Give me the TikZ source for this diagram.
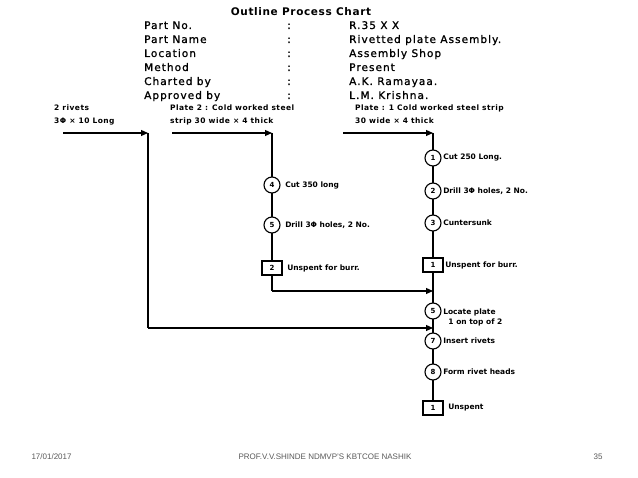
\documentclass[tikz,border=0pt]{standalone}
\usepackage{fontspec}
\setmainfont{Liberation Sans}
\newfontfamily\hdfont{DejaVu Sans}[LetterSpace=10,FakeBold=1.2]
\newfontfamily\ttlfont{DejaVu Sans}[LetterSpace=6]
\newfontfamily\smfont{DejaVu Sans}[LetterSpace=6]
\newfontfamily\lbfont{DejaVu Sans}
\usetikzlibrary{arrows.meta}
\begin{document}
\begin{tikzpicture}[x=1pt,y=-1pt,
  op/.style={circle,draw,line width=1.1pt,minimum size=16pt,inner sep=0pt,font=\lbfont\fontsize{7}{8}\selectfont\bfseries,fill=white},
  st/.style={rectangle,draw,line width=1.1pt,minimum width=20pt,minimum height=14pt,inner sep=0pt,font=\lbfont\fontsize{7}{8}\selectfont\bfseries,fill=white},
  lbl/.style={anchor=west,font=\lbfont\fontsize{7.5}{10}\selectfont\bfseries,inner sep=1.5pt},
  hd/.style={anchor=base west,font=\hdfont\fontsize{10.5}{12}\selectfont,inner sep=0pt},
  sm/.style={anchor=base west,font=\smfont\fontsize{7.5}{9}\selectfont\bfseries,inner sep=0pt},
  ln/.style={line width=1.1pt},
  ar/.style={line width=1.1pt,-{Triangle[length=7pt,width=6pt]}},
  ft/.style={font=\fontsize{8}{9}\selectfont,text=black!65}]
\useasboundingbox (0,0) rectangle (638,478);
\node[font=\ttlfont\fontsize{10.5}{12}\selectfont\bfseries] (title) at (301,12) {Outline Process Chart};
\foreach \i/\a/\b in {0/Part No./R.35 X X,1/Part Name/Rivetted plate Assembly.,2/Location/Assembly Shop,3/Method/Present,4/Charted by/A.K. Ramayaa.,5/Approved by/L.M. Krishna.}{
  \node[hd] (h\i) at (144,{29+14*\i}) {\a};
  \node[hd] (c\i) at (287,{29+14*\i}) {:};
  \node[hd] (v\i) at (349,{29+14*\i}) {\b};
}
\node[sm] (r1) at (54,111) {2 rivets};
\node[sm] (r2) at (54,124) {3Φ × 10 Long};
\node[sm] (p21) at (170,111) {Plate 2 : Cold worked steel};
\node[sm] (p22) at (170,124) {strip 30 wide × 4 thick};
\node[sm] (p11) at (355,111) {Plate : 1 Cold worked steel strip};
\node[sm] (p12) at (355,124) {30 wide × 4 thick};
\coordinate (rs) at (63,133); \coordinate (rc) at (148,133);
\coordinate (as) at (172,133); \coordinate (ac) at (272,133);
\coordinate (bs) at (343,133); \coordinate (bc) at (433,133);
\coordinate (j2) at (433,291); \coordinate (j3) at (433,328);
\coordinate (k2) at (272,291); \coordinate (k3) at (148,328);
\draw[ar] (rs) -- (rc); \draw[ln] (rc) -- (k3); \draw[ar] (k3) -- (j3);
\draw[ar] (as) -- (ac); \draw[ln] (ac) -- (272,268) -- (k2); \draw[ar] (k2) -- (j2);
\draw[ar] (bs) -- (bc);
\draw[ln] (bc) -- (433,408);
\node[op] (o1) at (433,158) {1}; \node[lbl] at (o1.east) {Cut 250 Long.};
\node[op] (o2) at (433,191) {2}; \node[lbl] at (o2.east) {Drill 3Φ holes, 2 No.};
\node[op] (o3) at (433,223) {3}; \node[lbl] at (o3.east) {Cuntersunk};
\node[st] (s1) at (433,265) {1}; \node[lbl] at (s1.east) {Unspent for burr.};
\node[op] (o6) at (433,311) {5}; \node[lbl,align=left] at ([yshift=-6pt]o6.east) {Locate plate\\\ \ 1 on top of 2};
\node[op] (o7) at (433,341) {7}; \node[lbl] at (o7.east) {Insert rivets};
\node[op] (o8) at (433,372) {8}; \node[lbl] at (o8.east) {Form rivet heads};
\node[st] (s9) at (433,408) {1}; \node[lbl] at ([xshift=3pt]s9.east) {Unspent};
\node[op] (o4) at (272,185) {4}; \node[lbl] at ([xshift=3pt]o4.east) {Cut 350 long};
\node[op] (o5) at (272,225) {5}; \node[lbl] at ([xshift=3pt]o5.east) {Drill 3Φ holes, 2 No.};
\node[st] (s2) at (272,268) {2}; \node[lbl] at ([xshift=3pt]s2.east) {Unspent for burr.};
\node[ft,anchor=west] (f1) at (28,457) {17/01/2017};
\node[ft] (f2) at (325,457) {PROF.V.V.SHINDE NDMVP'S KBTCOE NASHIK};
\node[ft] (f3) at (598,457) {35};
\end{tikzpicture}
\end{document}
